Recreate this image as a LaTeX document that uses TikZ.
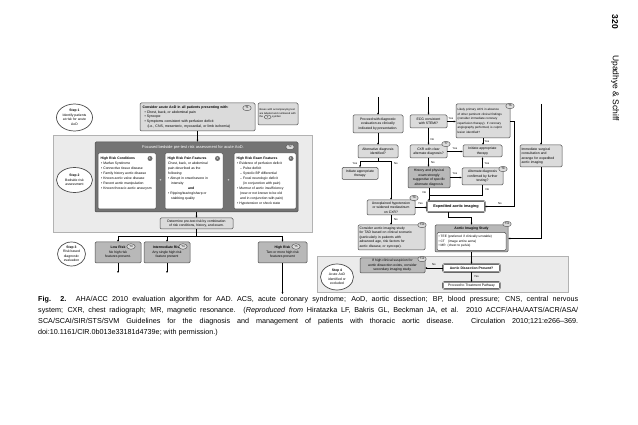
\documentclass[tikz,border=0pt]{standalone}
\usepackage{fontspec}
\setmainfont{Liberation Sans}
\usetikzlibrary{arrows.meta,shapes.geometric}
\definecolor{boxfill}{gray}{0.86}
\definecolor{stepfill}{gray}{0.92}
\definecolor{panelfill}{gray}{0.45}
\definecolor{midfill}{gray}{0.72}
\definecolor{edgegray}{gray}{0.3}
\newcommand{\boxfont}{\fontsize{3.4}{4.5}\selectfont}
\newcommand{\listfont}{\fontsize{3.4}{5}\selectfont}
\newcommand{\labfont}{\fontsize{2.8}{3}\selectfont}
\newcommand{\hrtitlefont}{\fontsize{3.4}{4}\selectfont\bfseries}
\newcommand{\capfont}{\fontsize{7.2}{11}\selectfont}
\begin{document}
\begin{tikzpicture}[x=1pt,y=-1pt,
  box/.style={draw=edgegray,line width=0.5pt,rounded corners=1.2pt,fill=boxfill,inner sep=1pt,font=\boxfont,align=center},
  plain/.style={inner sep=0pt,font=\boxfont,align=left},
  dbox/.style={box,fill=white,draw=black,double=white,double distance=0.5pt,line width=0.3pt,font=\boxfont\bfseries},
  tlab/.style={ellipse,draw=edgegray,fill=boxfill,line width=0.4pt,inner sep=0.2pt,minimum width=8.5pt,minimum height=5.5pt,font=\labfont},
  num/.style={circle,fill=edgegray!80,text=white,inner sep=0pt,minimum size=5pt,font=\labfont\bfseries},
  stepell/.style={ellipse,draw=edgegray,fill=white,line width=0.7pt,inner sep=0pt,font=\boxfont,align=center},
  region/.style={draw=gray!60,line width=0.4pt,fill=stepfill},
  arr/.style={-{Stealth[length=2pt,width=1.8pt]},line width=0.4pt},
  yn/.style={inner sep=0pt,font=\labfont}]
\useasboundingbox[fill=white] (0,0) rectangle (638,425);

\node[stepell,minimum width=36pt,minimum height=27pt] (step1) at (74.5,117.5) {\textbf{Step 1}\\Identify patients\\at risk for acute\\AoD};
\node[box,minimum width=115pt,minimum height=28pt,text width=110pt,align=left,font={\fontsize{3.5}{4.8}\selectfont}] (t1) at (197.5,117) {\textbf{Consider acute AoD in all patients presenting with:}\\\hspace*{2pt}\textbullet~Chest, back, or abdominal pain\\\hspace*{2pt}\textbullet~Syncope\\\hspace*{2pt}\textbullet~Symptoms consistent with perfusion deficit\\\hspace*{5pt}(i.e., CNS, mesenteric, myocardial, or limb ischemia)};
\node[tlab] (t1lab) at (247,108) {T1};
\node[box,minimum width=40pt,minimum height=22pt,text width=37pt,align=left,font={\fontsize{2.6}{3.6}\selectfont}] (legend) at (278,114) {Boxes with accompanying text\\are labeled and numbered with\\the \tikz[baseline=-0.8pt]\node[tlab,minimum width=7pt,minimum height=4pt]{T};\ symbol.};

\draw[region] (53,135) rectangle (312,232);
\node[stepell,minimum width=36pt,minimum height=25pt] (step2) at (74.5,180) {\textbf{Step 2}\\Bedside risk\\assessment};
\node[box,fill=panelfill,minimum width=203pt,minimum height=70pt] (t2) at (196.5,177) {};
\node[plain,text=white,font={\fontsize{4}{5}\selectfont}] (t2head) at (193,147.5) {Focused bedside pre-test risk assessment for acute AoD.};
\node[tlab] (t2lab) at (290,147) {T2};

\node[box,fill=white,minimum width=58pt,minimum height=56pt] (hrc) at (127,181) {};
\node[plain,anchor=west,font=\hrtitlefont] (hrctitle) at (100.5,158.5) {High Risk Conditions};
\node[num] (hrcnum) at (150,158.5) {1};
\node[plain,anchor=north west,font=\listfont] (hrclist) at (101,162) {\textbullet~Marfan Syndrome\\\textbullet~Connective tissue disease\\\textbullet~Family history aortic disease\\\textbullet~Known aortic valve disease\\\textbullet~Recent aortic manipulation\\\textbullet~Known thoracic aortic aneurysm};
\node[plain,text=white,font=\boxfont\bfseries] (plusa) at (160.5,181) {+};

\node[box,fill=white,minimum width=58pt,minimum height=56pt] (hrp) at (194,181) {};
\node[plain,anchor=west,font=\hrtitlefont] (hrptitle) at (167.5,158.5) {High Risk Pain Features};
\node[num] (hrpnum) at (217.5,158.5) {1};
\node[plain,anchor=north west,font=\listfont] (hrplist) at (168,162) {Chest, back, or abdominal\\pain described as the\\following:\\\textbullet~Abrupt in onset/severe in\\\hspace*{3pt}intensity\\\hspace*{20pt}\textbf{and}\\\textbullet~Ripping/tearing/sharp or\\\hspace*{3pt}stabbing quality};
\node[plain,text=white,font=\boxfont\bfseries] (plusb) at (228.5,181) {+};

\node[box,fill=white,minimum width=62pt,minimum height=56pt] (hre) at (265,181) {};
\node[plain,anchor=west,font=\hrtitlefont] (hretitle) at (236.5,158.5) {High Risk Exam Features};
\node[num] (hrenum) at (291,158.5) {1};
\node[plain,anchor=north west,font=\listfont] (hrelist) at (237,162) {\textbullet~Evidence of perfusion deficit\\\hspace*{3pt}-- Pulse deficit\\\hspace*{3pt}-- Systolic BP differential\\\hspace*{3pt}-- Focal neurologic deficit\\\hspace*{6pt}(in conjunction with pain)\\\textbullet~Murmur of aortic insufficiency\\\hspace*{3pt}(new or not known to be old\\\hspace*{3pt}and in conjunction with pain)\\\textbullet~Hypotension or shock state};

\node[box,minimum width=73pt,minimum height=11pt] (det) at (196.5,223.5) {Determine pre-test risk by combination\\of risk conditions, history, and exam.};
\draw[arr] (t1.south) -- (t1.south |- t2.north);
\draw[arr] (det.north |- t2.south) -- (det.north);
\coordinate (split) at (196.5,236);
\draw (det.south) -- (split);

\node[stepell,minimum width=28pt,minimum height=24pt] (step3) at (71.5,254) {\textbf{Step 3}\\Risk based\\diagnostic\\evaluation};
\node[box,fill=midfill,minimum width=46pt,minimum height=21pt] (low) at (118,252.5) {\textbf{Low Risk}\hspace{9pt}\\No high risk\\features present.};
\node[tlab] (t3lab) at (131,246.5) {T3};
\node[box,fill=midfill,minimum width=46pt,minimum height=21pt] (mid) at (167,252.5) {\textbf{Intermediate Risk}\hspace{9pt}\\Any single high risk\\feature present};
\node[tlab] (t4lab) at (183,246.5) {T4};
\node[box,fill=midfill,minimum width=49pt,minimum height=21pt] (high) at (282.5,252.5) {\textbf{High Risk}\hspace{9pt}\\Two or more high risk\\features present};
\node[tlab] (t5lab) at (296,246.5) {T5};
\draw[arr] (split) -| (low.north);
\draw[arr] (split) -| (mid.north);
\draw[arr] (split) -| (high.north);
\coordinate (lowend) at (118,273);
\coordinate (midend) at (167,273);
\coordinate (highend) at (282.5,294);
\draw[arr] (low.south) -- (lowend);
\draw[arr] (mid.south) -- (midend);
\draw[arr] (high.south) -- (highend);

\coordinate (lowtop) at (378,97);
\coordinate (midtop) at (428.5,97);
\coordinate (hightop) at (541,104);
\node[box,minimum width=50pt,minimum height=18pt] (proc) at (378,124) {Proceed with diagnostic\\evaluation as clinically\\indicated by presentation.};
\node[box,minimum width=37pt,minimum height=13pt] (ecg) at (428.5,121.5) {ECG consistent\\with STEMI?};
\node[box,minimum width=54pt,minimum height=34pt,text width=51pt,align=left,font={\fontsize{3}{4.5}\selectfont}] (t6) at (483,121) {Likely primary ACS in absence\\of other pertinent clinical findings\\(consider immediate coronary\\reperfusion therapy). If coronary\\angiography performed, is culprit\\lesion identified?};
\node[tlab] (t6lab) at (510,106) {T6};
\draw[arr] (lowtop) -- (proc.north);
\draw[arr] (midtop) -- (ecg.north);
\draw[arr] (ecg.east) -- (t6.west |- ecg.east);
\node[yn] (yes1) at (451,118.5) {Yes};

\node[box,minimum width=40pt,minimum height=13pt] (altdx) at (378,151.5) {Alternative diagnosis\\identified?};
\node[box,minimum width=37pt,minimum height=13pt] (cxr) at (428.5,151.5) {CXR with clear\\alternate diagnosis?};
\node[tlab] (t7lab) at (446,144) {T7};
\node[box,minimum width=39pt,minimum height=12pt] (initr) at (482.5,151) {Initiate appropriate\\therapy};
\draw[arr] (proc) -- (altdx);
\draw[arr] (ecg) -- (cxr);
\node[yn] (no1) at (432.5,139.5) {No};
\draw[arr] (cxr.east) -- (initr.west |- cxr.east);
\node[yn] (yes2) at (455,148.5) {Yes};
\draw[arr] (t6.south) -- (t6.south |- initr.north);
\node[yn] (yes3) at (487,141.5) {Yes};

\node[box,minimum width=36pt,minimum height=12pt] (initl) at (360,173.5) {Initiate appropriate\\therapy};
\node[box,minimum width=48pt,minimum height=15pt] (t9) at (391,207.5) {Unexplained hypotension\\or widened mediastinum\\on CXR?};
\node[tlab] (t9lab) at (414,198) {T9};
\coordinate (altsplit) at (378,161);
\draw (altdx.south) -- (altsplit);
\draw[arr] (altsplit) -| (initl.north);
\node[yn] (yes4) at (355,164) {Yes};
\draw[arr] (altsplit) -| (t9.north);
\node[yn] (no2) at (396,164) {No};

\node[box,fill=midfill,minimum width=42pt,minimum height=21pt] (hist) at (429,177.5) {History and physical\\exam strongly\\suggestive of specific\\alternate diagnosis};
\node[box,minimum width=41pt,minimum height=17pt] (t8) at (482.5,176.5) {Alternate diagnosis\\confirmed by further\\testing?};
\node[tlab] (t8lab) at (503,169) {T8};
\draw[arr] (cxr.south) -- (cxr.south |- hist.north);
\node[yn] (no3) at (433,162.5) {No};
\draw[arr] (hist.east) -- (t8.west |- hist.east);
\node[yn] (yes5) at (455,174) {Yes};
\draw[arr] (t8.north) -- (initr.south);
\node[yn] (yes6) at (487,163.5) {Yes};

\node[dbox,minimum width=58pt,minimum height=11pt,font={\fontsize{3.8}{4.5}\selectfont\bfseries}] (expd) at (456,206.5) {Expedited aortic imaging};
\draw[arr] (hist.south) -- (hist.south |- expd.north);
\node[yn] (no4) at (424.5,193) {No};
\coordinate (t8join) at (429,195);
\draw (t8.south) |- (t8join);
\node[yn] (no5) at (487.5,190) {No};
\draw[arr] (t6.east) -- ++(4,0) |- (expd.east);
\node[yn] (no6) at (500,203.5) {No};
\draw[arr] (t9.east) -- (expd.west |- t9.east);
\node[yn] (yes7) at (420.5,204) {Yes};

\node[box,minimum width=67pt,minimum height=25pt,text width=64pt,align=left] (t10) at (391.5,237.5) {Consider aortic imaging study\\for TAD based on clinical scenario\\(particularly in patients with\\advanced age, risk factors for\\aortic disease, or syncope).};
\node[tlab] (t10lab) at (422,225) {T10};
\draw[arr] (t9.south) -- (t9.south |- t10.north);
\node[yn] (no7) at (396,219.5) {No};

\node[box,fill=midfill,minimum width=73pt,minimum height=27pt] (t11) at (471.5,238.5) {};
\node[plain,font=\boxfont\bfseries] (t11head) at (471.5,228.8) {Aortic Imaging Study};
\node[box,fill=white,minimum width=69pt,minimum height=18pt,text width=66pt,align=left,font={\fontsize{3.2}{4.5}\selectfont}] (t11in) at (471.5,241.5) {\textbullet~TEE (preferred if clinically unstable)\\\textbullet~CT \hspace{2pt}(image entire aorta)\\\textbullet~MR \hspace{1pt}(chest to pelvis)};
\node[tlab] (t11lab) at (507,224) {T11};
\draw[arr] ([xshift=-8pt]expd.south) -- ++(0,5) -| (t11.north);

\node[box,minimum width=42pt,minimum height=22pt,text width=39pt,align=left] (imm) at (541,156) {Immediate surgical\\consultation and\\arrange for expedited\\aortic imaging};
\draw[arr] (hightop) -- (imm.north);
\draw[arr] (imm.south) |- (t11.east);

\draw[region] (317,256) rectangle (568,292);
\node[stepell,minimum width=33pt,minimum height=26pt] (step4) at (337,277) {\textbf{Step 4}\\Acute AoD\\identified or\\excluded};
\node[box,fill=midfill,minimum width=65pt,minimum height=15pt] (t12) at (392.5,265.5) {If high clinical suspicion for\\aortic dissection exists, consider\\secondary imaging study.};
\node[tlab] (t12lab) at (422,259) {T12};
\node[dbox,minimum width=57pt,minimum height=8pt] (adp) at (471.5,268) {Aortic Dissection Present?};
\node[dbox,minimum width=57pt,minimum height=7pt,font=\boxfont] (treat) at (471.5,285.5) {Proceed to Treatment Pathway};
\draw[arr] (t11.south) -- (adp.north);
\draw[arr] (adp.west) -- (t12.east |- adp.west);
\node[yn] (no8) at (434,265) {No};
\draw[arr] (adp) -- (treat);
\node[yn] (yes8) at (476.5,277) {Yes};

\node[anchor=north west,inner sep=0pt,text width=540pt,align=justify,font=\capfont] (caption) at (38,296) {\textbf{Fig. 2.} AHA/ACC 2010 evaluation algorithm for AAD. ACS, acute coronary syndrome; AoD, aortic dissection; BP, blood pressure; CNS, central nervous\linebreak system; CXR, chest radiograph; MR, magnetic resonance. (\textit{Reproduced from} Hiratazka LF, Bakris GL, Beckman JA, et al. 2010 ACCF/AHA/AATS/ACR/ASA/\linebreak SCA/SCAI/SIR/STS/SVM Guidelines for the diagnosis and management of patients with thoracic aortic disease. Circulation 2010;121:e266--369.\linebreak doi:10.1161/CIR.0b013e33181d4739e; with permission.)};
\node[rotate=-90,inner sep=0pt,font={\fontsize{8.5}{10}\selectfont\bfseries}] (pagenum) at (615,22) {320};
\node[rotate=-90,inner sep=0pt,font={\fontsize{8.5}{10}\selectfont}] (runhead) at (615,88) {Upadhye \& Schiff};
\end{tikzpicture}
\end{document}
